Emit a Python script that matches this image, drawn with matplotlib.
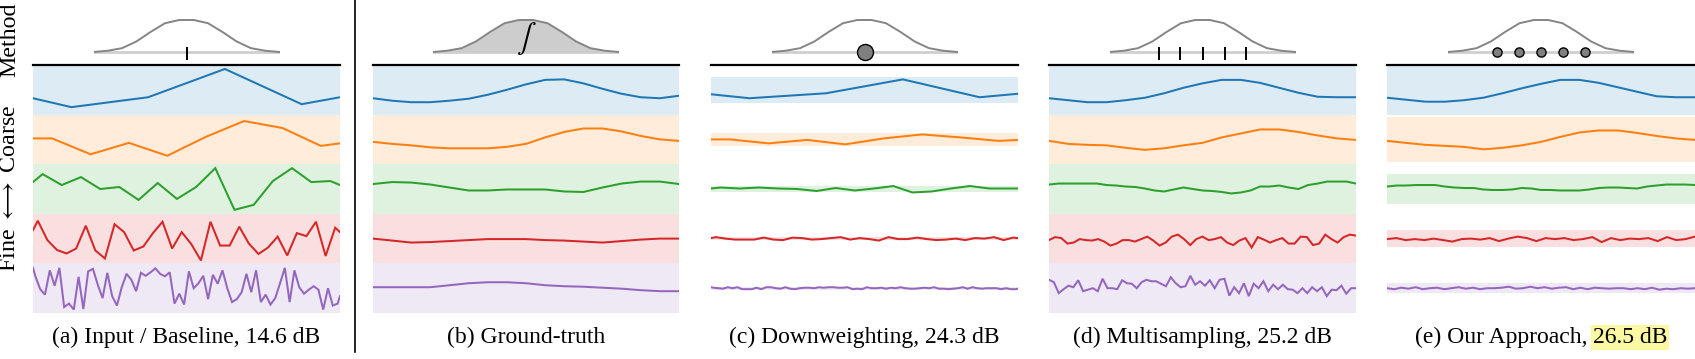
import numpy as np
import matplotlib
matplotlib.use("Agg")
import matplotlib.pyplot as plt
from matplotlib.colors import to_rgb
from matplotlib.lines import Line2D

plt.rcParams['font.family'] = ['Liberation Serif', 'DejaVu Serif', 'DejaVu Sans']
plt.rcParams['mathtext.fontset'] = 'stix'

# ---------------- data ----------------
captions = ["(a) Input / Baseline, 14.6 dB", "(b) Ground-truth",
            "(c) Downweighting, 24.3 dB", "(d) Multisampling, 25.2 dB",
            "(e) Our Approach, "]
highlight = "26.5 dB"
row_label_top = "Method"
row_label_side = r"Fine $\longleftrightarrow$ Coarse"

kernel = [0, 0.04, 0.12, 0.33, 0.63, 0.9, 1.0, 1.0, 0.9, 0.63, 0.33, 0.12, 0.04, 0]
sample_pos = [0.265, 0.38, 0.5, 0.62, 0.735]

# (a) input / baseline (cell-centred samples + endpoints)
a_blue = [-0.17, -0.35, -0.15, 0.42, -0.29, -0.15]
a_orange = [0.02, 0.02, -0.30, -0.07, -0.33, 0.05, 0.37, 0.23, -0.13, -0.08]
a_green = [0.14, 0.30, 0.08, 0.24, 0.00, 0.04, -0.22, 0.12, -0.20, 0.04, 0.42, -0.42,
           -0.32, 0.16, 0.42, 0.14, 0.16, 0.08]
a_red = [0.17, 0.36, -0.03, -0.23, -0.30, -0.20, 0.26, -0.24, -0.40, 0.29, 0.13, -0.24,
         -0.16, 0.11, 0.34, -0.20, 0.13, -0.11, -0.44, 0.34, -0.14, -0.14, 0.24, -0.10,
         -0.31, -0.18, 0.04, -0.34, 0.11, 0.05, 0.34, -0.35, 0.22, 0.13]
a_purple = [0.41, 0.24, -0.02, -0.13, 0.36, 0.05, 0.41, -0.38, -0.31, -0.43, 0.23, -0.42,
            0.34, 0.39, 0.07, -0.20, 0.31, -0.16, -0.35, 0.02, 0.29, 0.17, -0.06, 0.31,
            0.25, 0.32, 0.40, 0.29, 0.24, 0.32, -0.31, -0.11, -0.33, 0.34, 0.00, 0.10,
            0.25, -0.22, 0.27, 0.09, 0.36, 0.00, -0.28, -0.22, -0.08, 0.29, -0.08, 0.36,
            -0.28, -0.13, -0.33, -0.20, 0.10, 0.41, -0.28, 0.36, 0.02, -0.11, -0.03, 0.04,
            -0.03, -0.43, 0.00, -0.35, -0.31, -0.16]

# (b) ground truth
b_blue = [-0.17, -0.22, -0.25, -0.25, -0.22, -0.18, -0.10, 0.00, 0.11, 0.20, 0.21, 0.13,
          0.02, -0.08, -0.15, -0.17, -0.12]
b_orange = [-0.05, -0.09, -0.12, -0.16, -0.18, -0.18, -0.18, -0.15, -0.09, 0.04, 0.15,
            0.22, 0.22, 0.16, 0.07, 0.00, -0.03]
b_green = [0.10, 0.14, 0.13, 0.09, 0.03, -0.03, -0.03, -0.01, -0.01, -0.01, -0.05, -0.06,
           0.03, 0.11, 0.15, 0.15, 0.10]
b_red = [0.00, -0.04, -0.08, -0.07, -0.05, -0.03, -0.01, -0.01, -0.01, -0.03, -0.04,
         -0.06, -0.08, -0.05, -0.02, 0.00, 0.00]
b_purple = [0.02, 0.02, 0.02, 0.02, 0.06, 0.10, 0.12, 0.12, 0.10, 0.06, 0.04, 0.03, 0.01,
            -0.01, -0.04, -0.06, -0.06]

# (c) downweighting (cell-centred samples + endpoints)
c_blue = [-0.09, -0.17, -0.07, 0.21, -0.15, -0.08]
c_orange = [0.00, 0.00, -0.08, -0.01, -0.10, 0.02, 0.10, 0.04, -0.03, -0.01]
c_green = [0.01, 0.03, 0.01, 0.03, 0.01, 0.00, -0.04, 0.02, -0.03, 0.01, 0.06, -0.07,
           -0.05, 0.01, 0.06, 0.01, 0.01, 0.01]
c_red = [0.01, 0.03, 0.00, -0.02, -0.02, -0.02, 0.02, -0.02, -0.03, 0.02, 0.01, -0.02,
         -0.01, 0.01, 0.03, -0.02, 0.01, -0.01, -0.04, 0.03, -0.01, -0.01, 0.02, -0.01,
         -0.03, -0.02, 0.00, -0.03, 0.01, 0.00, 0.03, -0.03, 0.02, 0.01]
c_purple = [0.02, 0.01, 0.00, -0.01, 0.02, 0.00, 0.02, -0.02, -0.02, -0.02, 0.01, -0.02,
            0.02, 0.02, 0.00, -0.01, 0.02, -0.01, -0.02, 0.00, 0.01, 0.01, 0.00, 0.02,
            0.01, 0.02, 0.02, 0.01, 0.01, 0.02, -0.02, -0.01, -0.02, 0.02, 0.00, 0.00,
            0.01, -0.01, 0.01, 0.00, 0.02, 0.00, -0.01, -0.01, 0.00, 0.01, 0.00, 0.02,
            -0.01, -0.01, -0.02, -0.01, 0.00, 0.02, -0.01, 0.02, 0.00, -0.01, 0.00, 0.00,
            0.00, -0.02, 0.00, -0.02, -0.02, -0.01]

# (d) multisampling
d_blue = [-0.17, -0.21, -0.25, -0.25, -0.21, -0.16, -0.07, 0.04, 0.13, 0.20, 0.20, 0.14,
          0.04, -0.06, -0.14, -0.15, -0.15]
d_orange = [-0.03, -0.09, -0.11, -0.12, -0.17, -0.21, -0.18, -0.12, -0.07, 0.04, 0.12,
            0.20, 0.20, 0.15, 0.08, 0.02, -0.01]
d_green = [0.09, 0.11, 0.11, 0.11, 0.11, 0.11, 0.08, 0.07, 0.05, 0.04, 0.01, -0.03, -0.05,
           -0.01, 0.03, 0.00, -0.03, -0.04, -0.06, -0.09, -0.07, -0.03, 0.05, 0.05, 0.07,
           0.03, 0.00, 0.08, 0.11, 0.15, 0.15, 0.15, 0.11]
d_red = [-0.03, 0.03, 0.01, -0.10, -0.08, -0.01, -0.03, -0.04, -0.01, -0.06, -0.14, -0.10,
         -0.03, -0.03, -0.06, -0.01, 0.04, -0.04, -0.14, -0.08, 0.04, 0.08, -0.01, -0.13,
         -0.01, 0.04, -0.03, -0.01, 0.03, -0.08, -0.13, -0.04, 0.01, -0.18, 0.03, -0.02,
         -0.08, -0.03, 0.01, -0.10, -0.10, 0.04, 0.03, -0.13, -0.10, 0.08, -0.01, -0.08,
         0.03, 0.08, 0.06]
d_purple = [0.17, 0.12, -0.10, -0.02, 0.05, 0.02, 0.16, -0.06, -0.03, 0.00, -0.06, 0.19,
            0.00, 0.00, -0.02, 0.16, 0.10, 0.09, 0.00, 0.12, 0.17, 0.14, 0.14, 0.09,
            0.04, 0.22, 0.10, 0.02, 0.04, 0.25, 0.07, 0.14, 0.05, 0.16, 0.00, 0.17,
            0.19, -0.15, 0.02, -0.10, 0.10, -0.16, 0.09, 0.00, 0.14, -0.06, 0.07, -0.02,
            0.07, -0.02, -0.03, -0.10, 0.00, -0.10, 0.02, -0.06, 0.02, -0.16, -0.03,
            -0.04, 0.05, -0.11, 0.00, 0.00]

# (e) our approach
e_blue = [-0.16, -0.20, -0.24, -0.24, -0.21, -0.16, -0.07, 0.03, 0.12, 0.20, 0.20, 0.14,
          0.05, -0.04, -0.13, -0.15, -0.15]
e_orange = [-0.03, -0.07, -0.11, -0.13, -0.15, -0.20, -0.17, -0.12, -0.05, 0.05, 0.14,
            0.18, 0.18, 0.13, 0.07, 0.02, -0.01]
e_green = [0.05, 0.07, 0.07, 0.08, 0.08, 0.08, 0.05, 0.03, 0.02, 0.02, -0.01, -0.02,
           -0.02, -0.01, 0.02, 0.01, -0.02, -0.02, -0.03, -0.03, -0.03, -0.01, 0.02, 0.03,
           0.03, 0.02, 0.01, 0.05, 0.07, 0.09, 0.09, 0.09, 0.08]
e_red = [-0.01, 0.01, -0.03, -0.01, -0.03, 0.00, -0.03, -0.06, -0.01, 0.00, -0.02, 0.01,
         -0.05, 0.00, 0.04, 0.01, -0.05, 0.01, -0.01, 0.01, -0.03, -0.01, 0.03, -0.07,
         0.01, -0.03, 0.00, -0.01, 0.01, -0.05, 0.03, -0.03, -0.01, 0.04]
e_purple = [0.00, -0.02, 0.01, -0.01, 0.02, -0.02, 0.00, 0.01, -0.02, 0.00, 0.02, -0.01,
            0.01, -0.02, 0.00, 0.00, 0.01, 0.03, -0.01, 0.00, 0.03, 0.00, 0.02, -0.01,
            0.01, 0.02, -0.02, 0.01, -0.02, 0.01, 0.00, -0.01, 0.00, 0.00, -0.02, 0.00,
            -0.02, 0.01, -0.03, -0.01, -0.02, 0.00, -0.01, 0.00]

# uncertainty band half-widths (row units)
a_bands = [0.5, 0.5, 0.5, 0.5, 0.5]
b_bands = [0.5, 0.5, 0.5, 0.5, 0.5]
c_bands = [0.26, 0.13, 0.07, 0.035, 0.03]
d_bands = [0.5, 0.5, 0.5, 0.5, 0.5]
e_bands = [0.5, 0.46, 0.30, 0.17, 0.10]

# ---------------- layout ----------------
W, H = 1695, 359
fig = plt.figure(figsize=(W / 100, H / 100), dpi=100)
colors = ['#1f77b4', '#ff7f0e', '#2ca02c', '#d62728', '#9467bd']


def light(c, a=0.15):
    r = np.array(to_rgb(c))
    return tuple(1 - a * (1 - r))


FS = 17.3
CFS = 17.0
panels = [
    dict(x=(33, 340), series=[a_blue, a_orange, a_green, a_red, a_purple], bands=a_bands,
         centred=True, mark='tick1'),
    dict(x=(373, 679), series=[b_blue, b_orange, b_green, b_red, b_purple], bands=b_bands,
         centred=False, mark='integral'),
    dict(x=(711, 1018), series=[c_blue, c_orange, c_green, c_red, c_purple], bands=c_bands,
         centred=True, mark='dot1'),
    dict(x=(1049, 1356), series=[d_blue, d_orange, d_green, d_red, d_purple], bands=d_bands,
         centred=False, mark='ticks'),
    dict(x=(1387, 1695), series=[e_blue, e_orange, e_green, e_red, e_purple], bands=e_bands,
         centred=False, mark='dots'),
]

for pi, p in enumerate(panels):
    x0, x1 = p['x']
    ax = fig.add_axes([x0 / W, (H - 313) / H, (x1 - x0) / W, 248 / H])
    ax.set_xlim(0, 1)
    ax.set_ylim(5, 0)
    ax.axis('off')
    for r, (vals, hw, col) in enumerate(zip(p['series'], p['bands'], colors)):
        c = r + 0.5
        ax.axhspan(c - hw, c + hw, color=light(col), lw=0, zorder=1)
        n = len(vals)
        if p['centred']:
            m = n - 2
            xs = [0.0] + [(i + 0.5) / m for i in range(m)] + [1.0]
        else:
            xs = np.linspace(0, 1, n)
        ax.plot(xs, c - np.array(vals), color=col, lw=1.45, zorder=3,
                solid_joinstyle='miter')
    ax.axhline(0, color='k', lw=1.6, clip_on=False, zorder=4)

    # kernel / method glyph
    cx = (x0 + x1) / 2
    g = fig.add_axes([(cx - 93) / W, (H - 62) / H, 186 / W, 52 / H])
    g.set_xlim(0, 1)
    g.set_ylim(-0.3125, 1.3125)
    g.axis('off')
    kx = np.linspace(0, 1, len(kernel))
    g.plot([0, 1], [0, 0], color='#cfcfcf', lw=2.0, zorder=1)
    if p['mark'] == 'integral':
        g.fill_between(kx, 0, kernel, color='#cdcdcd', lw=0, zorder=1)
    g.plot(kx, kernel, color='#858585', lw=1.4, zorder=2)
    if p['mark'] == 'tick1':
        g.vlines([0.5], -0.26, 0.16, color='k', lw=1.4, zorder=3)
    elif p['mark'] == 'ticks':
        g.vlines(sample_pos, -0.26, 0.16, color='k', lw=1.4, zorder=3)
    elif p['mark'] == 'dot1':
        g.plot([0.5], [0], 'o', ms=11.5, mfc='#7f7f7f', mec='k', mew=1.0, zorder=3,
               clip_on=False)
    elif p['mark'] == 'dots':
        g.plot(sample_pos, [0] * len(sample_pos), 'o', ms=6.6, mfc='#7f7f7f', mec='k',
               mew=1.0, zorder=3, clip_on=False)
    elif p['mark'] == 'integral':
        g.text(0.5, 0.42, r'$\int$', ha='center', va='center', fontsize=21, zorder=3)

    # captions
    if pi < 4:
        fig.text(cx / W, 1 - 343 / H, captions[pi], ha='center', va='baseline', fontsize=CFS)
    else:
        t1 = fig.text(0, 1 - 343 / H, captions[pi].rstrip(), ha='left', va='baseline',
                      fontsize=CFS)
        t2 = fig.text(0, 1 - 343 / H, highlight, ha='left', va='baseline', fontsize=CFS,
                      bbox=dict(boxstyle='square,pad=0.08', fc='#fbf8a3', ec='none'))
        rend = fig.canvas.get_renderer()
        w1 = t1.get_window_extent(rend).width
        w2 = t2.get_window_extent(rend).width
        gap = 0.25 * CFS * 100 / 72
        start = cx - (w1 + gap + w2) / 2
        t1.set_x(start / W)
        t2.set_x((start + w1 + gap) / W)

# side labels
fig.text(9.5 / W, 1 - 40 / H, row_label_top, rotation=90, ha='center', va='center',
         fontsize=FS)
fig.text(9.5 / W, 1 - 188 / H, row_label_side, rotation=90, ha='center', va='center',
         fontsize=FS)

# separator
fig.add_artist(Line2D([355 / W, 355 / W], [1 - 352 / H, 1.0], color='k', lw=1.2))

fig.savefig('out.png', dpi=100)
